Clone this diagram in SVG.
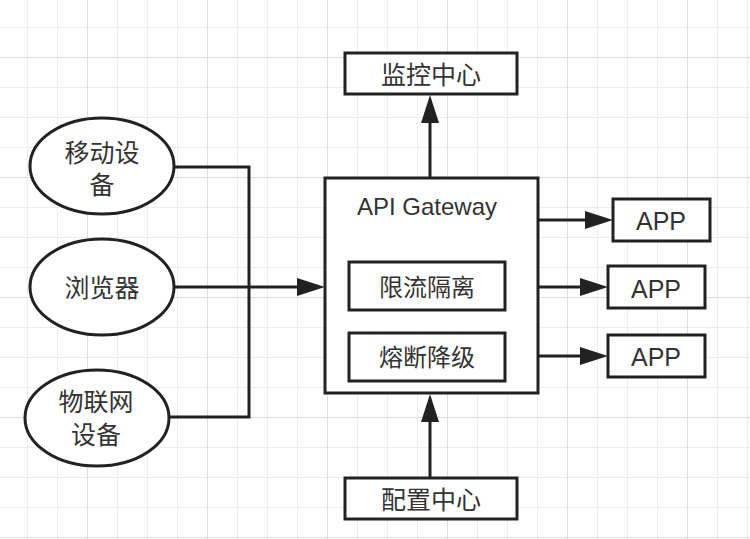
<svg xmlns="http://www.w3.org/2000/svg" width="750" height="539" viewBox="0 0 750 539">
<style>
.box{fill:#fff;stroke:#222;stroke-width:3}
.ell{fill:#fff;stroke:#222;stroke-width:3}
.con{fill:none;stroke:#222;stroke-width:3}
.t{font-family:"Liberation Sans","Noto Sans CJK SC",sans-serif;fill:#333;text-anchor:middle}
.c{dominant-baseline:central}
</style>
<defs>
<pattern id="minor" width="30" height="30" patternUnits="userSpaceOnUse">
<path d="M27.5 0V30M0 27.5H30" stroke="#ececec" stroke-width="1" fill="none"/>
</pattern>
<pattern id="major" width="120" height="120" patternUnits="userSpaceOnUse">
<path d="M87.5 0V120M0 57.5H120" stroke="#dedede" stroke-width="1" fill="none"/>
</pattern>
<marker id="arr" viewBox="0 0 28 18" refX="20" refY="9" markerWidth="28" markerHeight="18" markerUnits="userSpaceOnUse" orient="auto">
<path d="M0 0L28 9L0 18z" fill="#222"/>
</marker>
</defs>
<rect width="750" height="539" fill="#fff"/>
<rect width="750" height="539" fill="url(#minor)"/>
<rect width="750" height="539" fill="url(#major)"/>
<g id="connectors">
<path class="con" d="M175 167H249V417H170"/>
<path class="con" d="M175 287H317" marker-end="url(#arr)"/>
<path class="con" d="M430 178V103" marker-end="url(#arr)"/>
<path class="con" d="M538 220H605" marker-end="url(#arr)"/>
<path class="con" d="M538 287H600" marker-end="url(#arr)"/>
<path class="con" d="M538 356H600" marker-end="url(#arr)"/>
<path class="con" d="M430 478V402" marker-end="url(#arr)"/>
</g>
<g id="mobile">
<ellipse class="ell" cx="102" cy="166" rx="72" ry="48"/>
<text class="t c" x="102" y="153" font-size="25">移动设</text>
<text class="t c" x="102" y="185" font-size="25">备</text>
</g>
<g id="browser">
<ellipse class="ell" cx="102" cy="287" rx="72" ry="48"/>
<text class="t c" x="102" y="288" font-size="25">浏览器</text>
</g>
<g id="iot">
<ellipse class="ell" cx="97" cy="418" rx="72" ry="48"/>
<text class="t c" x="96" y="402" font-size="25">物联网</text>
<text class="t c" x="96" y="435" font-size="25">设备</text>
</g>
<g id="monitor">
<rect class="box" x="345" y="53" width="172" height="41"/>
<text class="t c" x="431" y="75" font-size="25">监控中心</text>
</g>
<g id="gateway">
<rect class="box" x="325" y="178" width="213" height="215"/>
<text class="t" x="427" y="215" font-size="24">API Gateway</text>
</g>
<g id="ratelimit">
<rect class="box" x="349" y="262" width="156" height="48"/>
<text class="t c" x="427" y="287" font-size="24">限流隔离</text>
</g>
<g id="breaker">
<rect class="box" x="349" y="333" width="156" height="48"/>
<text class="t c" x="427" y="357" font-size="24">熔断降级</text>
</g>
<g id="app1">
<rect class="box" x="613" y="199" width="97" height="42"/>
<text class="t" x="661" y="230" font-size="25">APP</text>
</g>
<g id="app2">
<rect class="box" x="608" y="266" width="97" height="42"/>
<text class="t" x="656" y="298" font-size="25">APP</text>
</g>
<g id="app3">
<rect class="box" x="608" y="335" width="97" height="42"/>
<text class="t" x="656" y="366" font-size="25">APP</text>
</g>
<g id="config">
<rect class="box" x="345" y="478" width="172" height="41"/>
<text class="t c" x="431" y="500" font-size="25">配置中心</text>
</g>
</svg>
